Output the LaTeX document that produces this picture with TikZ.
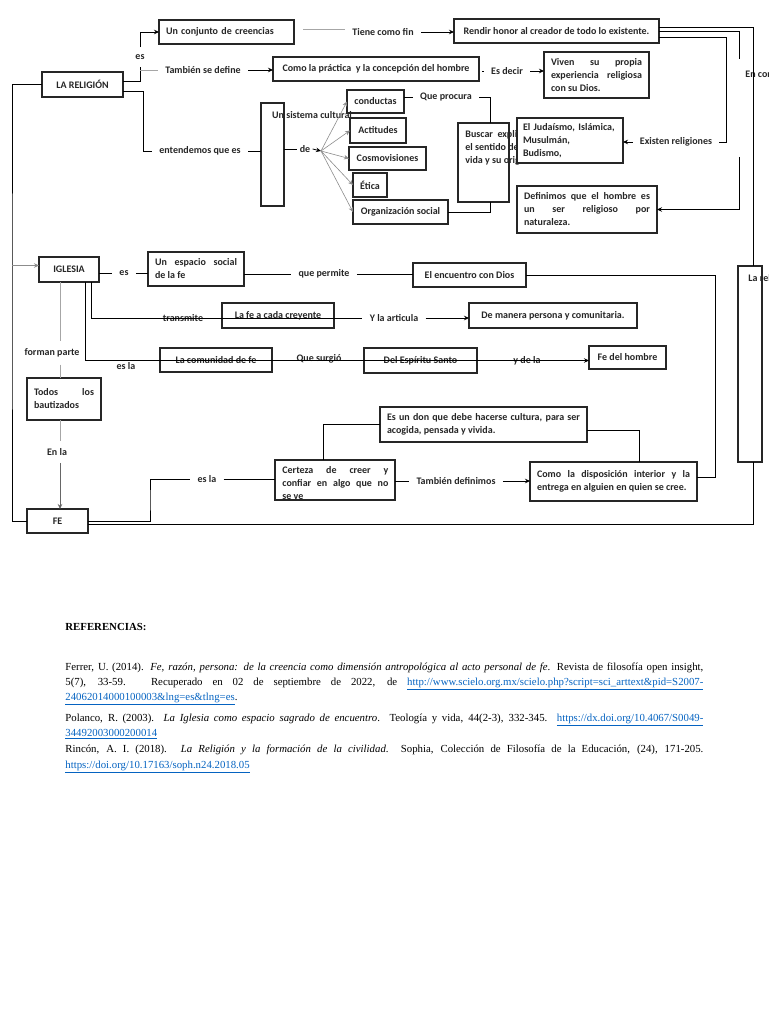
\documentclass[tikz,border=0pt]{standalone}
\usepackage{fontspec}
\setmainfont{Liberation Serif}
\newfontfamily\carlito{Carlito}
\usepackage{xcolor}
\usetikzlibrary{arrows.meta, positioning, calc}
\definecolor{colEnlace}{RGB}{5,99,193}
\newcommand{\diag}{\carlito\bfseries\fontsize{10}{13}\selectfont}
\newcommand{\refs}{\fontsize{10.8}{13}\selectfont}
\newcommand{\enlace}[1]{\textcolor{colEnlace}{\underline{#1}}}

\begin{document}
\begin{tikzpicture}[
  x=1pt, y=-1pt, line width=0.8pt,
  caja/.style={draw=black!85, line width=1.1pt, fill=white, anchor=north west,
               outer sep=0pt, inner xsep=7pt, inner ysep=1pt, font=\diag,
               text=black!85, align=#1},
  caja/.default=center,
  etq/.style={font=\diag, text=black!85, inner sep=7pt},
  arr/.style={-{Stealth[length=5pt, width=4.5pt]}, #1},
  arr/.default=black,
  gris/.style={draw=black!35},
  refl/.style={anchor=base west, inner sep=0pt, font=\refs},
]
\useasboundingbox (0,0) rectangle (768,1024);
\clip (0,0) rectangle (768,1024);

% ─── LA RELIGIÓN ──────────────────────────────────────────────────────────────
\node[caja, minimum width=81pt, minimum height=25pt] (relig) at (42,72) {LA RELIGIÓN};
\node[caja=left, minimum width=135pt, minimum height=24pt, text width=121pt] (creencias) at (159,20) {Un conjunto de creencias};
\node[caja, minimum width=205pt, minimum height=24pt] (rendir) at (454,19) {Rendir honor al creador de todo lo existente.};
\node[caja, minimum width=206pt, minimum height=24pt] (practica) at (273,57) {Como la práctica\ \ y la concepción del hombre};
\node[caja=justify, minimum width=105pt, minimum height=46pt, text width=91pt] (viven) at (544,52) {Viven su propia\break experiencia religiosa\break con su Dios.};

\node[etq] (es1)        at (140,57)  {es};
\node[etq] (tambien)    at (203,70)  {También se define};
\node[etq] (entendemos) at (200,151) {entendemos que es};
\node[etq] (tienefin)   at (383,32)  {Tiene como fin};
\node[etq] (esdecir)    at (507,71)  {Es decir};

% ─── SISTEMA CULTURAL ─────────────────────────────────────────────────────────
\node[caja, minimum width=23pt, minimum height=103pt] (sistema) at (261,103) {};
\node[caja, minimum width=57pt, minimum height=23pt] (conductas) at (347,90)  {conductas};
\node[caja, minimum width=56pt, minimum height=25pt] (actitudes) at (350,118) {Actitudes};
\node[caja, minimum width=77pt, minimum height=23pt] (cosmo)     at (349,147) {Cosmovisiones};
\node[caja, minimum width=34pt, minimum height=24pt] (etica)     at (353,173) {Ética};
\node[caja, minimum width=95pt, minimum height=24pt] (orgsoc)    at (353,200) {Organización social};
\node[etq, inner sep=0pt] (sistematxt) at (312,115) {Un sistema cultural};
\node[etq, inner xsep=2pt] (de) at (305,149) {de};
\coordinate (abanico) at (321,151);
\node[etq] (procura) at (446,97) {Que procura};

\node[caja, minimum width=51pt, minimum height=79pt] (buscar) at (458,123) {};
\node[etq, anchor=north west, inner ysep=0pt, align=left] (buscartxt)
  at ([yshift=-7pt]buscar.north west) {Buscar\ \ explicar\\el sentido de la\\vida y su origen.};
\node[caja=left, minimum width=106pt, minimum height=45pt, text width=94pt, inner xsep=6pt] (judaismo) at (517,118)
  {El~Judaísmo,~Islámica,\\Musulmán,\\Budismo,};
\node[etq] (existen) at (676,142) {Existen religiones};
\node[caja=justify, minimum width=140pt, minimum height=47pt, text width=126pt] (definimos) at (517,186)
  {Definimos que el hombre es\break un ser religioso por\break naturaleza.};

\node[etq, anchor=west, inner sep=0pt] (enco) at (745,74) {En conclusión};
\node[caja, minimum width=24pt, minimum height=196pt] (lare) at (738,266) {};
\node[etq, anchor=west, inner sep=0pt] (larelig) at (748,279) {La religión};

% ─── IGLESIA ──────────────────────────────────────────────────────────────────
\node[caja, minimum width=60pt, minimum height=25pt] (iglesia) at (39,257) {IGLESIA};
\node[caja=justify, minimum width=96pt, minimum height=34pt, text width=82pt] (espacio) at (148,252) {Un espacio social\break de la fe};
\node[caja, minimum width=113pt, minimum height=24pt] (encuentro) at (413,263) {El encuentro con Dios};
\node[caja, minimum width=112pt, minimum height=25pt] (lafe)      at (222,303) {La fe a cada creyente};
\node[caja, minimum width=168pt, minimum height=25pt] (manera)    at (469,303) {De manera persona y comunitaria.};
\node[caja, minimum width=112pt, minimum height=24pt] (comunidad) at (160,348) {La comunidad de fe};
\node[caja, minimum width=113pt, minimum height=25pt] (espiritu)  at (364,348) {Del Espíritu Santo};
\node[caja, minimum width=77pt,  minimum height=23pt] (fehombre)  at (589,346) {Fe del hombre};

\node[etq] (es2)       at (124,273) {es};
\node[etq] (permite)   at (324,274) {que permite};
\node[etq] (transmite) at (183,318) {transmite};
\node[etq] (articula)  at (394,318) {Y la articula};
\node[etq] (esla1)     at (126,366) {es la};
\node[etq] (surgio)    at (319,359) {Que surgió};
\node[etq] (ydela)     at (527,361) {y de la};
\node[etq] (forman)    at (52,353)  {forman parte};

\node[caja=justify, minimum width=74pt, minimum height=42pt, text width=60pt] (todos) at (27,378) {Todos los\break bautizados};
\node[etq] (enla) at (57,452) {En la};

% ─── FE ───────────────────────────────────────────────────────────────────────
\node[caja, minimum width=61pt, minimum height=24pt] (fe) at (27,509) {FE};
\node[etq] (esla2) at (207,479) {es la};
\node[caja, minimum width=120pt, minimum height=40pt] (certeza) at (275,460) {};
\begin{scope}
  \clip (certeza.north west) rectangle (certeza.south east);
  \node[etq, anchor=north west, inner ysep=0pt, text width=106pt, align=justify] (certezatxt)
    at ([yshift=-6pt]certeza.north west) {Certeza de creer y\break confiar en algo que no\break se ve};
\end{scope}
\node[caja=justify, minimum width=207pt, minimum height=35pt, text width=193pt] (don) at (380,407)
  {Es un don que debe hacerse cultura, para ser\break acogida, pensada y vivida.};
\node[etq] (tambiendef) at (456,481) {También definimos};
\node[caja=justify, minimum width=167pt, minimum height=39pt, text width=153pt] (disposicion) at (530,462)
  {Como la disposición interior y la\break entrega en alguien en quien se cree.};

% ─── CONECTORES ───────────────────────────────────────────────────────────────
\draw ([yshift=3.5pt]relig.east) -| (es1.south);
\draw[arr] (es1.north) |- (creencias.west);
\draw[gris] (es1.south |- tambien) -- (tambien.west);
\draw[arr] (tambien.east) -- (practica.west |- tambien);
\draw ([yshift=-6.5pt]relig.east) -- ++(20,0) |- (entendemos.west);
\draw (entendemos.east) -- (sistema.west |- entendemos.east);
\draw (sistema.east |- de) -- (de.west);
\draw[arr] (de.east) -- (abanico);
\foreach \c in {conductas,actitudes,cosmo,etica,orgsoc}
  \draw[arr=black!45, line width=0.6pt] (abanico) -- (\c.west);

\draw[gris] ([xshift=9pt,yshift=3pt]creencias.east) -- ([yshift=3pt]tienefin.west);
\draw[arr] (tienefin.east) -- (rendir.west |- tienefin.east);
\draw ([xshift=3pt]practica.east |- esdecir) -- (esdecir.west);
\draw[arr] (esdecir.east) -- (viven.west |- esdecir);
\draw (conductas.east |- procura) -- (procura.west);
\draw (procura.east) -| ([xshift=6.5pt]buscar.north);
\draw (orgsoc.east) -| ([xshift=6.5pt]buscar.south);

\coordinate (encoA) at (739,59);
\coordinate (encoB) at (739,157);
\draw ([yshift=4pt]rendir.east) -| ([xshift=3pt]lare.north);
\draw (rendir.east) -| (encoA);
\draw[arr] (encoB) |- (definimos.east);
\draw ([yshift=-6pt]rendir.east) -| ([xshift=7pt]existen.east) -- (existen.east);
\draw[arr] (existen.west) -- (judaismo.east |- existen.west);

\draw (iglesia.east |- es2) -- (es2.west);
\draw (es2.east) -- (espacio.west |- es2);
\draw (espacio.east |- permite) -- (permite.west);
\draw (permite.east) -- (encuentro.west |- permite);
\coordinate (rodeo) at (715,400);
\draw (encuentro.east) -| (rodeo) |- ([yshift=4.5pt]disposicion.east);
\draw ([xshift=22pt]iglesia.south) |- (articula.west);
\draw[arr] (articula.east) -- (manera.west |- articula);
\draw[arr] ([xshift=16pt]iglesia.south) |- ([yshift=-3pt]fehombre.west);

\coordinate (ejeA) at (60,300);
\draw[gris] (iglesia.south -| ejeA) -- (forman.north -| ejeA);
\draw[gris] (forman.south -| ejeA) -- (todos.north -| ejeA);
\draw[gris] (todos.south -| ejeA) -- (enla.north -| ejeA);
\draw[arr=black!60] (enla.south -| ejeA) -- (fe.north -| ejeA);

\coordinate (margen) at (12,300);
\draw (fe.west) -| (margen) |- (relig.west);
\draw[arr=black!45, line width=0.6pt] ([yshift=4pt]iglesia.west -| margen) -- ([yshift=4pt]iglesia.west);

\coordinate (quiebre) at (150,500);
\draw (fe.east) -| (quiebre) |- (esla2.west);
\draw (esla2.east) -- (certeza.west |- esla2);
\draw ([yshift=-3pt]fe.east) -| ([xshift=3pt]lare.south);
\draw (certeza.east |- tambiendef) -- (tambiendef.west);
\draw[arr] (tambiendef.east) -- (disposicion.west |- tambiendef);
\draw ([xshift=-12pt]certeza.north) |- (don.west);
\draw ([yshift=-6pt]don.east) -| ([xshift=25.5pt]disposicion.north);

% ─── REFERENCIAS ──────────────────────────────────────────────────────────────
\node[refl] (titref) at (65,630.5) {\textbf{REFERENCIAS:}};
\node[refl] (ferrerA) at (65,670.5) {\makebox[638pt][s]{Ferrer, U. (2014). \textit{Fe, razón, persona: de la creencia como dimensión antropológica al acto personal de fe}. Revista de filosofía open insight,}};
\node[refl] (ferrerB) at (65,685.5) {\makebox[638pt][s]{5(7), 33-59. Recuperado en 02 de septiembre de 2022, de \enlace{http://www.scielo.org.mx/scielo.php?script=sci\_arttext\&pid=S2007-}}};
\node[refl] (ferrerC) at (65,700.5) {\enlace{24062014000100003\&lng=es\&tlng=es}.};
\node[refl] (polancoA) at (65,721.5) {\makebox[638pt][s]{Polanco, R. (2003). \textit{La Iglesia como espacio sagrado de encuentro}. Teología y vida, 44(2-3), 332-345. \enlace{https://dx.doi.org/10.4067/S0049-}}};
\node[refl] (polancoB) at (65,736.5) {\enlace{34492003000200014}};
\node[refl] (rinconA) at (65,752.5) {\makebox[638pt][s]{Rincón, A. I. (2018). \textit{La Religión y la formación de la civilidad}.\ \ Sophia, Colección de Filosofía de la Educación, (24), 171-205.}};
\node[refl] (rinconB) at (65,768.5) {\enlace{https://doi.org/10.17163/soph.n24.2018.05}};

\end{tikzpicture}
\end{document}
